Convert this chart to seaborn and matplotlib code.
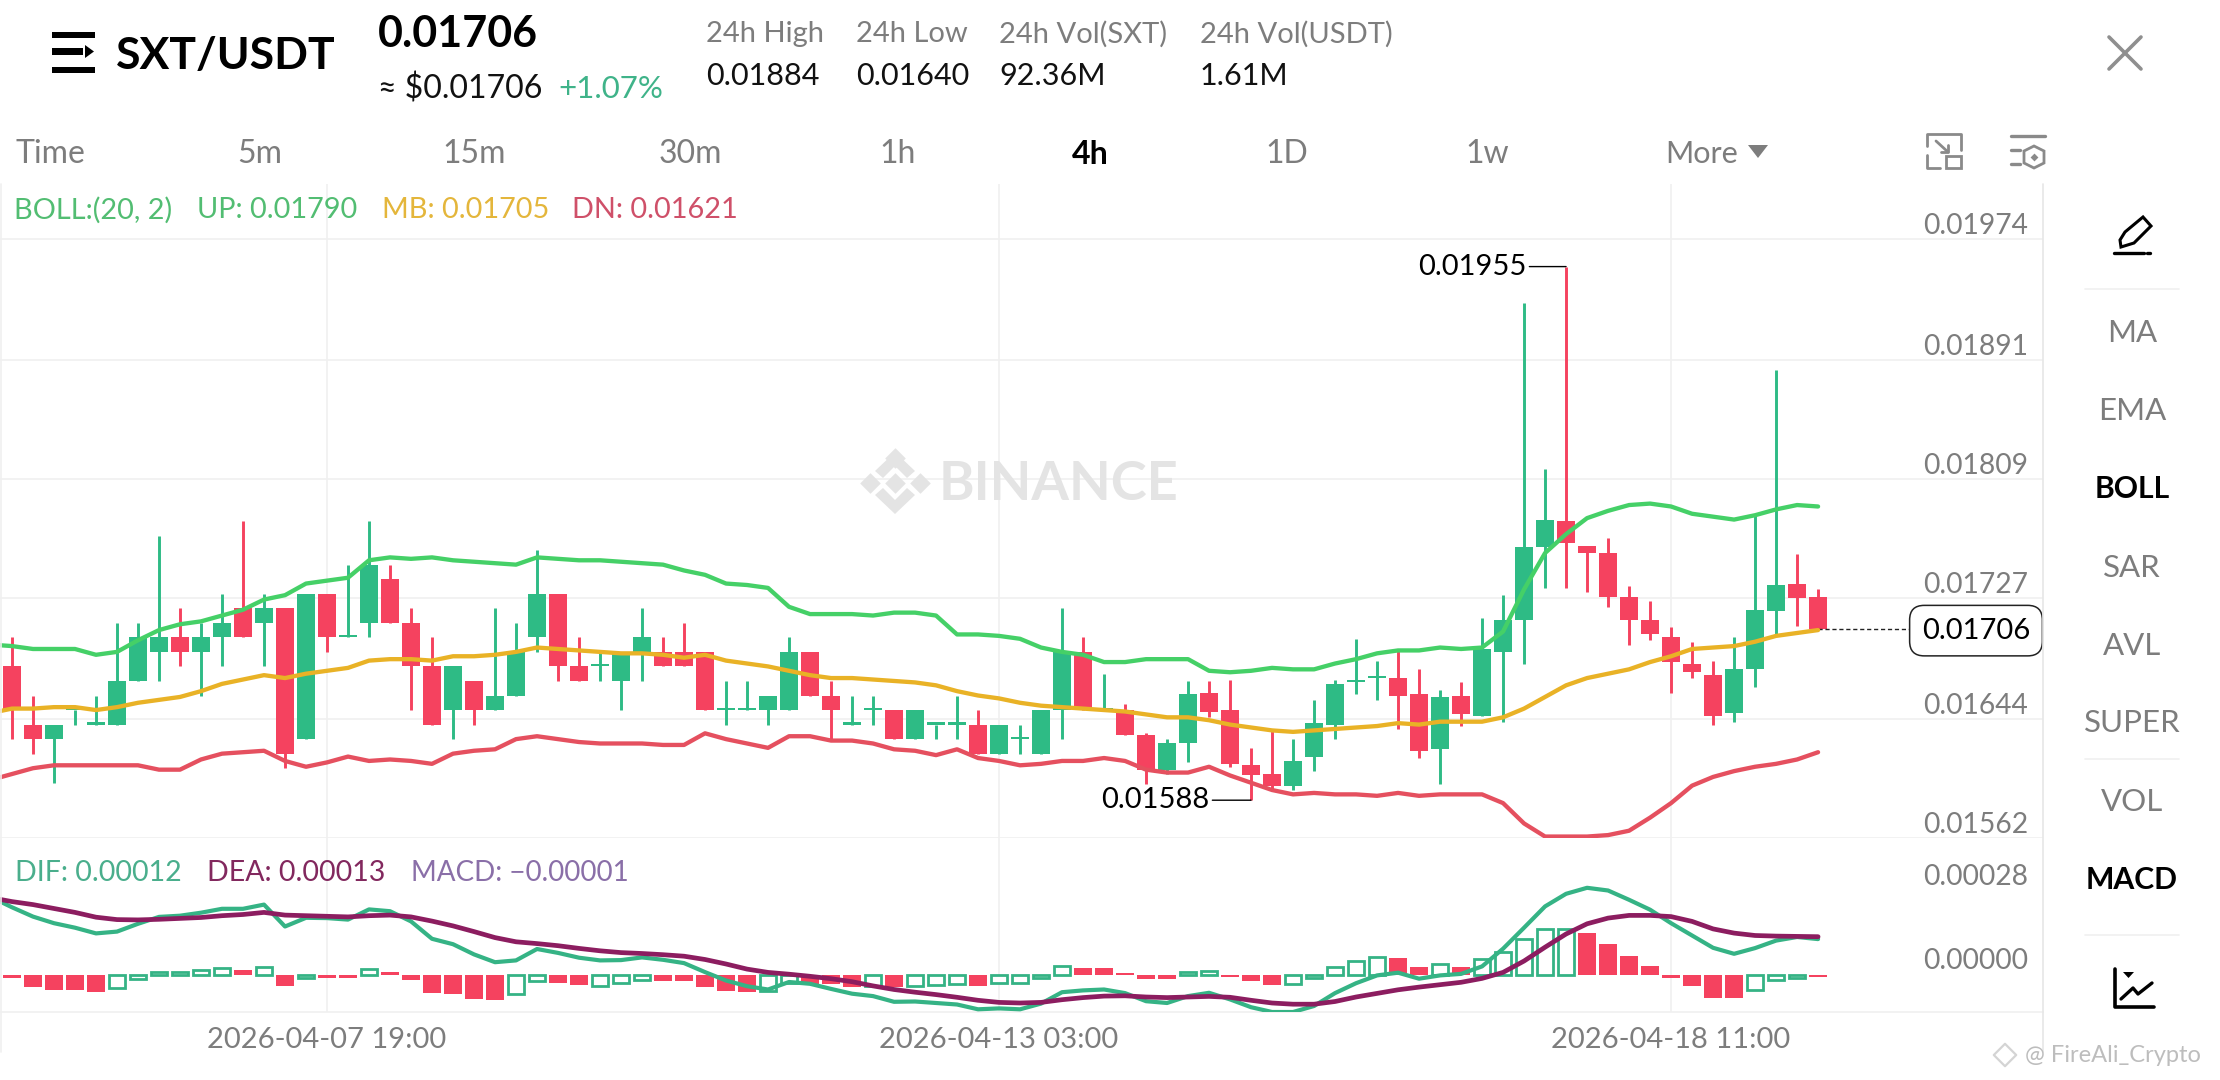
import matplotlib
matplotlib.use("Agg")
import matplotlib.pyplot as plt
from matplotlib.patches import Polygon, Rectangle
import numpy as np
import seaborn as sns

# candles (4h bars)
opens = [.01680,.01640,.01630,.01650,.01640,.01640,.01670,.01690,.01700,.01690,
         .01700,.01720,.01710,.01720,.01630,.01730,.01700,.01710,.01740,.01710,
         .01680,.01650,.01670,.01650,.01660,.01700,.01730,.01680,.01680,.01670,
         .01690,.01690,.01690,.01690,.01650,.01650,.01650,.01650,.01690,.01660,
         .01640,.01650,.01650,.01630,.01640,.01640,.01640,.01620,.01630,.01620,
         .01650,.01690,.01650,.01650,.01633,.01609,.01627,.01662,.01650,.01612,
         .01606,.01598,.01618,.01640,.01669,.01672,.01672,.01661,.01623,.01660,
         .01646,.01690,.01712,.01762,.01780,.01763,.01758,.01728,.01712,.01700,
         .01682,.01674,.01648,.01678,.01718,.01737,.01728]
closes = [.01650,.01630,.01640,.01650,.01640,.01670,.01700,.01700,.01690,.01700,
          .01710,.01700,.01720,.01620,.01730,.01700,.01700,.01750,.01710,.01680,
          .01640,.01680,.01650,.01660,.01690,.01730,.01680,.01670,.01680,.01690,
          .01700,.01680,.01680,.01650,.01650,.01650,.01660,.01690,.01660,.01650,
          .01640,.01650,.01630,.01650,.01640,.01640,.01620,.01640,.01630,.01650,
          .01690,.01650,.01650,.01633,.01609,.01627,.01661,.01649,.01613,.01605,
          .01598,.01615,.01641,.01668,.01669,.01672,.01660,.01622,.01659,.01647,
          .01692,.01712,.01762,.01781,.01765,.01758,.01728,.01712,.01702,.01683,
          .01676,.01646,.01678,.01719,.01736,.01727,.01706]
highs = [.01700,.01660,.01640,.01650,.01660,.01710,.01710,.01770,.01720,.01710,
         .01730,.01780,.01730,.01720,.01730,.01730,.01750,.01780,.01750,.01720,
         .01700,.01680,.01670,.01720,.01710,.01760,.01730,.01700,.01690,.01690,
         .01720,.01700,.01710,.01690,.01670,.01670,.01660,.01700,.01690,.01670,
         .01660,.01660,.01650,.01650,.01640,.01660,.01650,.01640,.01640,.01650,
         .01720,.01700,.01675,.01654,.01634,.01630,.01670,.01670,.01671,.01624,
         .01637,.01630,.01657,.01671,.01699,.01684,.01692,.01678,.01664,.01669,
         .01713,.01729,.01930,.01816,.01955,.01763,.01768,.01735,.01725,.01707,
         .01697,.01684,.01700,.01785,.01884,.01757,.01733]
lows = [.01630,.01620,.01600,.01640,.01640,.01640,.01670,.01670,.01680,.01660,
        .01680,.01700,.01680,.01610,.01630,.01690,.01700,.01700,.01710,.01650,
        .01640,.01630,.01640,.01650,.01660,.01690,.01670,.01670,.01670,.01650,
        .01670,.01680,.01680,.01650,.01640,.01650,.01640,.01650,.01660,.01630,
        .01640,.01640,.01630,.01630,.01630,.01630,.01620,.01620,.01620,.01620,
        .01630,.01650,.01650,.01633,.01599,.01606,.01614,.01645,.01611,.01588,
        .01595,.01595,.01608,.01630,.01661,.01657,.01637,.01617,.01599,.01639,
        .01646,.01642,.01682,.01734,.01734,.01731,.01721,.01695,.01698,.01662,
        .01672,.01640,.01642,.01666,.01701,.01708,.01706]

# bollinger bands, first point is the bar just off the left edge
boll_up = [.01695,.01694,.01692,.01692,.01692,.01688,.01690,.01698,.01705,.01709,.01711,
           .01715,.01719,.01726,.01729,.01737,.01739,.01741,.01753,.01755,.01754,
           .01755,.01753,.01752,.01751,.01750,.01755,.01754,.01753,.01753,.01752,
           .01751,.01750,.01746,.01743,.01737,.01736,.01734,.01721,.01716,.01716,
           .01716,.01715,.01717,.01717,.01715,.01702,.01702,.01701,.01699,.01693,
           .01690,.01688,.01683,.01683,.01685,.01685,.01685,.01677,.01676,.01677,
           .01679,.01678,.01678,.01682,.01685,.01689,.01691,.01691,.01693,.01692,
           .01693,.01704,.01733,.01758,.01771,.01782,.01787,.01791,.01792,.01790,
           .01785,.01783,.01781,.01784,.01788,.01791,.01790]
boll_mb = [.01648,.01651,.01651,.01652,.01652,.01650,.01652,.01655,.01657,.01659,.01663,
           .01668,.01671,.01674,.01672,.01675,.01677,.01679,.01684,.01685,.01685,
           .01684,.01687,.01687,.01688,.01690,.01693,.01692,.01691,.01690,.01689,
           .01689,.01688,.01686,.01688,.01684,.01682,.01680,.01677,.01674,.01672,
           .01672,.01671,.01670,.01669,.01667,.01663,.01660,.01658,.01655,.01653,
           .01652,.01651,.01650,.01649,.01647,.01645,.01645,.01643,.01640,.01638,
           .01636,.01635,.01636,.01637,.01638,.01639,.01641,.01640,.01642,.01642,
           .01642,.01645,.01651,.01659,.01667,.01672,.01675,.01678,.01683,.01687,
           .01692,.01693,.01694,.01697,.01701,.01703,.01705]
boll_dn = [.01602,.01606,.01610,.01612,.01612,.01612,.01612,.01612,.01609,.01609,.01616,
           .01620,.01621,.01622,.01615,.01611,.01614,.01618,.01615,.01616,.01615,
           .01613,.01620,.01622,.01623,.01630,.01632,.01630,.01628,.01627,.01627,
           .01627,.01626,.01626,.01634,.01630,.01627,.01624,.01632,.01632,.01629,
           .01629,.01627,.01623,.01622,.01619,.01623,.01617,.01615,.01612,.01613,
           .01615,.01615,.01617,.01615,.01609,.01607,.01607,.01611,.01605,.01600,
           .01595,.01592,.01593,.01592,.01592,.01591,.01593,.01591,.01592,.01592,
           .01592,.01586,.01572,.01563,.01563,.01563,.01564,.01567,.01576,.01586,
           .01598,.01604,.01608,.01611,.01613,.01616,.01621]

# macd panel, all in units of 0.00001
dif = [26.0,22.6,19.5,17.3,15.8,13.9,14.5,17.1,19.4,19.8,20.8,22.1,22.1,23.5,16.2,19.1,19.0,18.5,
       21.9,21.3,17.9,12.1,10.3,6.9,4.3,4.9,8.7,7.4,5.8,4.9,5.0,5.9,5.1,4.0,1.0,-1.8,-3.7,-4.8,-2.3,
       -2.9,-4.6,-6.2,-7.0,-8.9,-8.8,-9.3,-9.8,-11.4,-11.1,-11.4,-9.5,-5.7,-5.1,-4.8,-6.0,-8.7,-9.3,
       -7.0,-5.9,-8.1,-10.7,-12.3,-12.3,-10.3,-6.0,-2.7,-0.1,0.8,-1.2,-0.1,0.4,2.9,8.8,15.8,22.9,
       27.1,29.1,28.2,25.1,21.8,17.3,13.2,9.1,7.1,9.0,11.5,12.7,12.0]
dea = [25.8,24.5,23.5,22.2,20.9,19.3,18.5,18.4,18.6,18.9,19.2,19.8,20.2,20.9,20.0,19.8,19.6,19.4,
       19.8,20.0,19.4,18.0,16.4,14.5,12.5,11.1,10.5,9.8,8.9,8.1,7.5,7.2,6.8,6.3,5.2,3.7,2.0,0.9,0.3,
       -0.4,-1.2,-2.2,-3.6,-4.8,-5.7,-6.5,-7.4,-8.4,-9.1,-9.3,-9.1,-8.2,-7.5,-7.0,-6.9,-7.3,-7.5,
       -7.3,-7.1,-7.4,-8.4,-9.3,-9.7,-9.7,-8.8,-7.3,-6.1,-4.9,-4.0,-3.2,-2.4,-1.1,0.9,4.7,9.3,
       13.7,17.1,19.0,19.9,19.9,19.5,17.9,15.4,14.0,13.2,13.0,12.9,12.8]
macd_hist = [-1.1,-4.0,-5.1,-5.1,-5.7,-4.2,-1.2,1.0,1.0,1.6,2.4,1.8,2.7,-3.7,-1.1,-0.9,-0.9,2.1,0.9,-1.7,
             -6.0,-6.2,-8.0,-8.2,-6.2,-2.1,-2.6,-3.4,-3.7,-2.8,-1.6,-1.9,-2.1,-4.1,-5.2,-5.7,-5.2,-2.6,
             -2.9,-3.1,-4.1,-3.7,-4.0,-3.7,-3.3,-3.1,-3.7,-2.8,-2.7,-1.1,2.9,2.4,2.2,0.8,-1.3,-1.4,1.1,
             1.4,-0.8,-2.1,-3.3,-3.0,-1.1,2.7,4.8,6.0,5.8,2.8,3.6,2.6,5.3,7.8,12.1,15.5,15.5,14.0,10.4,
             6.5,2.9,-0.9,-3.8,-7.5,-7.7,-5.1,-1.8,-1.1,-0.7]
# 1 = solid red bar, 0 = hollow green bar
hist_red = [1,1,1,1,1,0,0,0,0,0,0,1,0,1,0,1,1,0,1,1,
            1,1,1,1,0,0,1,1,0,0,0,1,1,1,1,1,0,0,
            1,1,1,0,1,0,0,0,1,0,0,0,0,1,1,1,1,1,0,
            0,1,1,1,0,0,0,0,0,1,1,0,1,0,0,0,0,0,1,1,
            1,1,1,1,1,1,0,0,0,1]

price_ticks = [.01974, .01891, .01809, .01727, .01644, .01562]
macd_ticks = [28, 0]
date_ticks = [15, 47, 79]
date_labels = ["2026-04-07 19:00", "2026-04-13 03:00", "2026-04-18 11:00"]
timeframes = ["5m", "15m", "30m", "1h", "4h", "1D", "1w"]
side_items = ["MA", "EMA", "BOLL", "SAR", "AVL", "SUPER", "VOL", "MACD"]

GREEN = "#2ebb85"
RED = "#f5425f"
GRID = "#f0f0f0"
GREY = "#7d7d7d"
W, H = 2220, 1080

sns.set_theme(style="white")
plt.rcParams["font.family"] = ["Lato", "DejaVu Sans"]


def axes_box(fig, x0, y0, x1, y1):
    return fig.add_axes([x0 / W, 1 - y1 / H, (x1 - x0) / W, (y1 - y0) / H])


fig = plt.figure(figsize=(W / 100, H / 100), dpi=100, facecolor="white")
ax = axes_box(fig, 0, 184, 2043, 838)
ax2 = axes_box(fig, 0, 838, 2043, 1012)
idx = np.arange(len(opens))
line_idx = np.arange(-1, len(opens))
xlim = (-0.571, 96.71)

# price panel
for y in price_ticks:
    ax.axhline(y, color=GRID, lw=1.2, zorder=0)
for x in date_ticks:
    ax.axvline(x, color=GRID, lw=1.2, zorder=0)
    ax2.axvline(x, color=GRID, lw=1.2, zorder=0)

candle_colors = [GREEN if c >= o else RED for o, c in zip(opens, closes)]
ax.vlines(idx, lows, highs, colors=candle_colors, lw=2.1, zorder=2)
body_low = np.minimum(opens, closes)
body_h = np.maximum(np.abs(np.array(closes) - np.array(opens)), 0.000016)
ax.bar(idx, body_h, bottom=body_low, width=0.86, color=candle_colors, linewidth=0, zorder=3)

sns.lineplot(x=line_idx, y=boll_up, color="#45d067", linewidth=3.1, ax=ax, zorder=4)
sns.lineplot(x=line_idx, y=boll_dn, color="#e5505f", linewidth=3.1, ax=ax, zorder=4)
sns.lineplot(x=line_idx, y=boll_mb, color="#e9b226", linewidth=3.1, ax=ax, zorder=5)

ax.set_xlim(*xlim)
ax.set_ylim(0.015620, 0.020118)
ax.set_xticks([])
ax.set_yticks([])
ax.set_xlabel("")
sns.despine(ax=ax, left=True, bottom=True)

for y in price_ticks:
    ax.annotate(f"{y:.5f}", xy=(1, y), xycoords=("axes fraction", "data"), xytext=(-15, 0),
                textcoords="offset pixels", ha="right", va="bottom", fontsize=20.3, color=GREY)

ax.annotate("0.01955", xy=(74, highs[74]), xytext=(-40, 0), textcoords="offset pixels", ha="right",
            va="center", fontsize=21, color="black",
            arrowprops=dict(arrowstyle="-", color="black", lw=1, shrinkA=0, shrinkB=0), zorder=6)
ax.annotate("0.01588", xy=(59, lows[59]), xytext=(-42, 0), textcoords="offset pixels", ha="right",
            va="center", fontsize=21, color="black",
            arrowprops=dict(arrowstyle="-", color="black", lw=1, shrinkA=0, shrinkB=0), zorder=6)

ax.plot([86, 90.4], [closes[-1], closes[-1]], color="#222222", lw=1, ls=(0, (3, 2)), zorder=4)
ax.annotate("0.01706", xy=(1, closes[-1]), xycoords=("axes fraction", "data"), xytext=(-67, -2),
            textcoords="offset pixels", ha="center", va="center", fontsize=21, color="black",
            bbox=dict(boxstyle="round,pad=0.42,rounding_size=0.5", fc="white", ec="#222222", lw=1.1), zorder=7)

# macd panel
hist = np.array(macd_hist) * 1e-5
red_mask = np.array(hist_red) == 1
ax2.bar(idx[red_mask], hist[red_mask], width=0.88, color=RED, linewidth=0, zorder=2)
ax2.bar(idx[~red_mask], hist[~red_mask], width=0.8, facecolor="white", edgecolor="#35b385", linewidth=2, zorder=2)
sns.lineplot(x=line_idx, y=np.array(dif) * 1e-5, color="#35b385", linewidth=3, ax=ax2, zorder=3)
sns.lineplot(x=line_idx, y=np.array(dea) * 1e-5, color="#8c1d60", linewidth=3.4, ax=ax2, zorder=4)
ax2.set_xlim(*xlim)
ax2.set_ylim(-0.000123, 0.000457)
ax2.set_yticks([])
ax2.set_xticks(date_ticks)
ax2.set_xticklabels(date_labels, fontsize=21, color=GREY)
ax2.tick_params(axis="x", length=0, pad=11)
ax2.set_xlabel("")
sns.despine(ax=ax2, left=True, top=True)
ax2.spines["bottom"].set_color(GRID)
ax2.spines["bottom"].set_linewidth(1.2)

for v in macd_ticks:
    ax2.annotate(f"{v * 1e-5:.5f}", xy=(1, v * 1e-5), xycoords=("axes fraction", "data"), xytext=(-15, 1),
                 textcoords="offset pixels", ha="right", va="bottom", fontsize=20.3, color=GREY)

# everything round the chart, in pixel coordinates of the screenshot
ui = fig.add_axes([0, 0, 1, 1], zorder=10)
ui.set_xlim(0, W)
ui.set_ylim(H, 0)
ui.axis("off")
ui.patch.set_alpha(0)


def label(x, y, text, size=20, color=GREY, weight="normal", ha="left"):
    ui.text(x, y + 3, text, fontsize=size, color=color, fontweight=weight, ha=ha, va="center")


# frame lines of the chart
ui.plot([0.5, 0.5], [184, 1052], color=GRID, lw=1.2)
ui.plot([2043, 2043], [184, 1052], color="#e6e6e6", lw=1.2)

# header
for y0, y1, x1 in [(32, 38, 95), (48, 55, 83), (67, 73, 95)]:
    ui.add_patch(Rectangle((52, y0), x1 - 52, y1 - y0, color="black", lw=0))
ui.add_patch(Polygon([(85, 45), (94, 51.5), (85, 58)], color="black", lw=0))
label(116, 53, "SXT/USDT", size=32, color="black", weight="bold")
label(378, 31, "0.01706", size=31, color="black", weight="bold")
label(378, 86, "≈ $0.01706", size=23, color="#111111")
label(558, 86, "+1.07%", size=22.5, color="#3fb389")

heads = [(706, "24h High", "0.01884"), (856, "24h Low", "0.01640"),
         (999, "24h Vol(SXT)", "92.36M"), (1200, "24h Vol(USDT)", "1.61M")]
for x, top, val in heads:
    label(x, 31, top, size=21)
    label(x, 73, val, size=22, color="#111111")

# close button
ui.plot([2109, 2141], [37, 69], color="#8f8f8f", lw=2.6)
ui.plot([2109, 2141], [69, 37], color="#8f8f8f", lw=2.6)

# timeframe tabs
label(15, 151, "Time", size=23)
tab_x = [260, 474, 690, 898, 1090, 1287, 1487]
for x, t in zip(tab_x, timeframes):
    if t == "4h":
        label(x, 151, t, size=23, color="black", weight="bold", ha="center")
    else:
        label(x, 151, t, size=23, ha="center")
label(1665, 151, "More", size=22)
ui.add_patch(Polygon([(1748, 145), (1768, 145), (1758, 158)], color=GREY, lw=0))

# the two small icons on the right of the tabs
ICON = "#8a8a8a"
ui.plot([1927, 1927, 1961, 1961], [146, 134, 134, 150], color=ICON, lw=2)
ui.plot([1927, 1927, 1940], [155, 168, 168], color=ICON, lw=2)
ui.add_patch(Rectangle((1946, 156), 15, 12, fill=False, ec=ICON, lw=2))
ui.plot([1936, 1948], [141, 152], color=ICON, lw=2)
ui.plot([1941, 1948, 1948], [152, 152, 145], color=ICON, lw=2)
ui.plot([2011, 2045], [136, 136], color=ICON, lw=2.4)
ui.plot([2011, 2020], [150, 150], color=ICON, lw=2.4)
ui.plot([2011, 2020], [164, 164], color=ICON, lw=2.4)
ui.add_patch(Polygon([(2034, 146), (2044, 151), (2044, 163), (2034, 168), (2024, 163), (2024, 151)],
                     fill=False, ec=ICON, lw=2))
ui.scatter([2034], [157], marker="D", s=16, color=ICON, lw=0)

# indicator legends
label(14, 207, "BOLL:(20, 2)", size=20.8, color="#52bd72")
label(197, 207, "UP: 0.01790", size=20.8, color="#52bd72")
label(382, 207, "MB: 0.01705", size=20.8, color="#e4b63b")
label(572, 207, "DN: 0.01621", size=20.8, color="#cf5069")
label(15, 870, "DIF: 0.00012", size=20.5, color="#4aae8c")
label(207, 870, "DEA: 0.00013", size=20.5, color="#82285e")
label(411, 870, "MACD: −0.00001", size=20, color="#8a6fa8")

# binance watermark
WM = "#e4e4e4"
wm_pts = [(895, 458), (870, 483), (920, 483), (895, 483), (895, 508)]
ui.scatter([p[0] for p in wm_pts[:3]], [p[1] for p in wm_pts[:3]], marker="D", s=110, color=WM, lw=0)
ui.scatter([wm_pts[3][0]], [wm_pts[3][1]], marker="D", s=110, color=WM, lw=0)
ui.add_patch(Polygon([(875, 495), (883, 488), (895, 500), (907, 488), (915, 495), (895, 514)], color=WM, lw=0))
ui.add_patch(Polygon([(875, 471), (883, 478), (895, 466), (907, 478), (915, 471), (895, 452)], color=WM, lw=0))
label(939, 482, "BINANCE", size=39, color=WM, weight="bold")

# side menu
side_y = [330, 408, 486, 565, 643, 720, 799, 877]
for y, name in zip(side_y, side_items):
    if name in ("BOLL", "MACD"):
        label(2132, y, name, size=21.7, color="black", weight="bold", ha="center")
    else:
        label(2132, y, name, size=22.5, ha="center")
for y in [289, 759, 935]:
    ui.plot([2085, 2179], [y, y], color=GRID, lw=1.2)

# pencil
ui.add_patch(Polygon([(2120, 240), (2125, 232), (2143, 217), (2151, 226), (2134, 243), (2121, 247)],
                     fill=False, ec="black", lw=2.2))
ui.plot([2114, 2144], [253, 253], color="black", lw=2.4)
ui.plot([2147, 2150], [253, 253], color="black", lw=2.4)

# chart icon
ui.plot([2115, 2115, 2154], [969, 1007, 1007], color="black", lw=2.6)
ui.plot([2121, 2133, 2138, 2152], [999, 988, 994, 983], color="black", lw=2.4)
ui.add_patch(Polygon([(2123, 972), (2134, 972), (2128.5, 978)], color="black", lw=0))

# image watermark bottom right
ui.scatter([2005], [1055], marker="D", s=130, facecolor="none", edgecolor="#d4d4d4", lw=1.6)
ui.text(2025, 1056, "@ FireAli_Crypto", fontsize=17, color="#bdbdbd", ha="left", va="center")

fig.savefig("out.png", dpi=100, facecolor="white")
